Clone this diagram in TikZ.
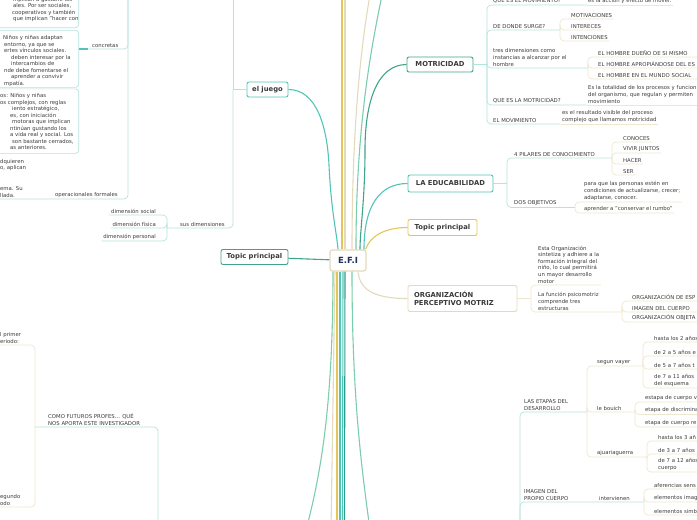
\documentclass[tikz,border=0pt]{standalone}
\usepackage{fontspec}
\setmainfont{DejaVu Sans}
\definecolor{tealc}{HTML}{52C4B7}
\definecolor{tealdk}{HTML}{2E9C8C}
\definecolor{greenc}{HTML}{3FA58A}
\definecolor{greenlt}{HTML}{7CCDAE}
\definecolor{yellowc}{HTML}{E2C65B}
\definecolor{beigec}{HTML}{E3D9BB}
\definecolor{tealpale}{HTML}{B3E3DD}
\definecolor{beigepale}{HTML}{EEE6CF}
\definecolor{inkc}{HTML}{3A3A3A}
\definecolor{navyc}{HTML}{1D2F63}

\begin{document}
\begin{tikzpicture}[x=1pt, y=-1pt, every node/.style={align=left}]
\tikzset{
  central/.style={draw=beigec, rounded corners=2.5pt, line width=1.2pt, fill=white, text=navyc, font=\fontsize{8.5}{10}\bfseries\selectfont, minimum width=36pt, minimum height=21pt},
  topic/.style={draw=#1, rounded corners=2pt, line width=0.9pt, fill=white, text=inkc, font=\fontsize{6.8}{8.6}\bfseries\selectfont, minimum height=15pt, inner xsep=3pt},
  leaf/.style={text=inkc, font=\fontsize{5.35}{6.6}\selectfont, inner xsep=1.5pt, inner ysep=1.6pt, anchor=south west},
  leafcut/.style={leaf, text width=120pt},
  tbox/.style={draw=tealpale, rounded corners=3pt, line width=0.7pt, inner sep=0pt},
  boxtxt/.style={text=inkc, font=\fontsize{5.35}{6.45}\selectfont, inner sep=0pt, anchor=north west},
  branch/.style={draw=#1, line width=1.1pt},
  twig/.style={draw=#1, line width=0.7pt, rounded corners=4pt}
}

% marco
\path[use as bounding box] (0,0) rectangle (697,520);
\clip (0,0) rectangle (697,520);

% temas
\node[central] (efi) at (348,260.5) {E.F.I};
\node[topic=greenc, minimum width=67pt] (topicIzq) at (254.5,257) {Topic principal};
\node[topic=tealc, minimum width=41pt] (juego) at (267.5,89.5) {el juego};
\node[topic=greenc, minimum width=66pt] (motricidad) at (440,64.5) {MOTRICIDAD};
\node[topic=tealc, minimum width=85pt, minimum height=17pt] (educabilidad) at (450.5,183.5) {LA EDUCABILIDAD};
\node[topic=yellowc, minimum width=69pt, minimum height=16pt] (topicDer) at (442.5,227.5) {Topic principal};
\node[topic=beigec, text width=97pt, inner xsep=6pt, minimum height=26pt] (organizacion) at (462.5,298.5) {ORGANIZACIÓN\\PERCEPTIVO MOTRIZ};

% puntos de union
\coordinate (motJ) at (487,64.5);
\coordinate (surgeJ) at (560,30);
\coordinate (tresJ) at (588,68);
\coordinate (eduJ) at (507,183.5);
\coordinate (pilJ) at (612,158);
\coordinate (dosJ) at (575,207.5);
\coordinate (orgJ) at (531,298.5);
\coordinate (funJ) at (622,312);
\coordinate (etBot) at (520,530);
\coordinate (etJ) at (587,412);
\coordinate (vayerJ) at (643,366);
\coordinate (bouichJ) at (635,412);
\coordinate (ajuJ) at (647,457);
\coordinate (intJ) at (644,502);
\coordinate (juegoJ) at (233,89.5);
\coordinate (juegoTop) at (233,-10);
\coordinate (susJ) at (167,228);
\coordinate (etapaTop) at (128,-10);
\coordinate (concJ) at (88,49);
\coordinate (profBot) at (158,530);
\coordinate (profJ) at (35,427);
\coordinate (up1) at (342,-5);
\coordinate (up2) at (345,-5);
\coordinate (up3) at (370,-5);
\coordinate (up4) at (382,-5);
\coordinate (dn1) at (306,530);
\coordinate (dn2) at (331,530);
\coordinate (dn3) at (337,530);
\coordinate (dn4) at (340,530);
\coordinate (dn5) at (342.5,530);
\coordinate (dn6) at (344.5,530);
\coordinate (dn7) at (370,530);

% motricidad
\node[leaf] (queMov) at (491.5,5) {QUE ES EL MOVIMIENTO?};
\node[leaf] (queMovResp) at (586.5,5) {es la acción y efecto de mover.};
\node[leaf] (dondeSurge) at (491.5,30) {DE DONDE SURGE?};
\node[leaf] (motivaciones) at (569.5,19) {MOTIVACIONES};
\node[leaf] (intereces) at (569.5,30) {INTERECES};
\node[leaf] (intenciones) at (569.5,41) {INTENCIONES};
\node[leaf] (tresDim) at (491.5,68) {tres dimensiones como\\instancias a alcanzar por el\\hombre};
\node[leafcut] (hombreUno) at (596.5,57) {EL HOMBRE DUEÑO DE SI MISMO};
\node[leafcut] (hombreDos) at (596.5,68) {EL HOMBRE APROPIÁNDOSE DEL ES};
\node[leafcut] (hombreTres) at (596.5,79) {EL HOMBRE EN EL MUNDO SOCIAL};
\node[leaf] (queMotri) at (491.5,105) {QUE ES LA MOTRICIDAD?};
\node[leafcut] (queMotriResp) at (586.5,105) {Es la totalidad de los procesos y funcion\\del organismo, que regulan y permiten\\movimiento};
\node[leaf] (elMov) at (491.5,124) {EL MOVIMIENTO};
\node[leaf] (elMovResp) at (560.5,124) {es el resultado visible del proceso\\complejo que llamamos motricidad};

% educabilidad
\node[leaf] (pilares) at (512.5,158) {4 PILARES DE CONOCIMIENTO};
\node[leaf] (conoces) at (621.5,142) {CONOCES};
\node[leaf] (vivir) at (621.5,153) {VIVIR JUNTOS};
\node[leaf] (hacer) at (621.5,164) {HACER};
\node[leaf] (ser) at (621.5,175) {SER};
\node[leaf] (dosObj) at (512.5,207.5) {DOS OBJETIVOS};
\node[leaf] (paraQue) at (582.5,202) {para que las personas estén en\\condiciones de actualizarse, crecer;\\adaptarse, conocer.};
\node[leaf] (aprender) at (582.5,213) {aprender a "conservar el rumbo"};

% organizacion perceptivo motriz
\node[leaf] (estaOrg) at (536.5,285) {Esta Organización\\sintetiza y adhiere a la\\formación integral del\\niño, lo cual permitirá\\un mayor desarrollo\\motor};
\node[leaf] (laFuncion) at (536.5,312) {La función psicomotriz\\comprende tres\\estructuras};
\node[leafcut] (orgEsp) at (630.5,301) {ORGANIZACIÓN DE ESP};
\node[leafcut] (imgCuerpo) at (630.5,312) {IMAGEN DEL CUERPO};
\node[leafcut] (orgObj) at (630.5,322) {ORGANIZACIÓN OBJETA};

% etapas e imagen
\node[leaf] (etapas) at (522.5,412) {LAS ETAPAS DEL\\DESARROLLO};
\node[leaf] (segunVayer) at (595.5,366) {segun vayer};
\node[leafcut] (vayerUno) at (652.5,342) {hasta los 2 años};
\node[leafcut] (vayerDos) at (652.5,356) {de 2 a 5 años e};
\node[leafcut] (vayerTres) at (652.5,369) {de 5 a 7 años t};
\node[leafcut] (vayerCuatro) at (652.5,388) {de 7 a 11 años\\del esquema};
\node[leaf] (leBouich) at (595.5,412) {le bouich};
\node[leafcut] (bouichUno) at (643.5,402) {estapa de cuerpo v};
\node[leafcut] (bouichDos) at (643.5,414.5) {etapa de discrimina};
\node[leafcut] (bouichTres) at (643.5,427) {etapa de cuerpo re};
\node[leaf] (ajuria) at (595.5,457) {ajuariaguerra};
\node[leafcut] (ajuUno) at (656.5,441) {hasta los 3 añ};
\node[leafcut] (ajuDos) at (656.5,454) {de 3 a 7 años};
\node[leafcut] (ajuTres) at (656.5,472) {de 7 a 12 años\\cuerpo};
\node[leaf] (imagen) at (522.5,502) {IMAGEN DEL\\PROPIO CUERPO};
\node[leaf] (intervienen) at (597.5,502) {intervienen};
\node[leafcut] (interUno) at (652.5,489) {aferencias sens};
\node[leafcut] (interDos) at (652.5,502) {elementos imag};
\node[leafcut] (interTres) at (652.5,515) {elementos simb};

% el juego
\node[leaf] (susDim) at (178.5,228) {sus dimensiones};
\node[leaf, anchor=south east] (dimSocial) at (157.5,215) {dimensión social};
\node[leaf, anchor=south east] (dimFisica) at (157.5,228) {dimensión física};
\node[leaf, anchor=south east] (dimPersonal) at (157.5,241) {dimensión personal};
\node[leaf] (concretas) at (90.5,49) {concretas};
\node[leaf] (formales) at (53.5,199) {operacionales formales};
\node[leaf] (formalesTxt) at (-1.5,199) {ema. Su\\llada.};
\node[boxtxt] (adquierenTxt) at (0,159) {dquieren\\o, aplican};
\node[tbox, minimum width=90pt, minimum height=40pt, anchor=south east] (caja1) at (79,28) {};
\node[tbox, minimum width=90pt, minimum height=57pt, anchor=north east] (caja2) at (79,30) {};
\node[tbox, minimum width=90pt, minimum height=64.5pt, anchor=north east] (caja3) at (79,88.5) {};
\node[boxtxt] (cajaTxt1) at (0,-3) {\hspace*{13pt}mplican a gustarle los\\\hspace*{13pt}ales. Por ser sociales,\\\hspace*{12pt}cooperativos y también\\\hspace*{13pt}que implican "hacer con};
\node[boxtxt] (cajaTxt2) at (0,35.5) {\hspace*{3pt}Niños y niñas adaptan\\\hspace*{4pt}entorno, ya que se\\\hspace*{4pt}ertes vínculos sociales.\\\hspace*{11pt}deben interesar por la\\\hspace*{11pt}intercambios de\\\hspace*{4pt}nde debe fomentarse el\\\hspace*{11pt}aprender a convivir\\\hspace*{4pt}mpatía.};
\node[boxtxt] (cajaTxt3) at (0,93.5) {os: Niños y niñas\\os complejos, con reglas\\\hspace*{12pt}iento estratégico,\\\hspace*{10pt}es, con iniciación\\\hspace*{12pt}motoras que implican\\\hspace*{10pt}ntinúan gustando los\\\hspace*{10pt}a vida real y social. Los\\\hspace*{12pt}son bastante cerrados,\\\hspace*{10pt}as anteriores.};

% futuros profes
\node[leaf] (futuros) at (46.5,427) {COMO FUTUROS PROFES... QUÉ\\NOS APORTA ESTE INVESTIGADOR};
\node[leaf] (primer) at (-1.5,345) {l primer\\eriodo:};
\node[leaf] (segundo) at (-1.5,507) {egundo\\odo};

% conectores principales
\draw[branch=greenc] (topicIzq) -- (efi);
\draw[branch=tealc] (juego.east) .. controls (316,89.5) and (327,125) .. (329,165) .. controls (331,210) and (337,235) .. ([xshift=-10pt]efi.north);
\draw[branch=greenc] (motricidad.west) .. controls (378,64.5) and (365,100) .. (365,150) .. controls (365,200) and (360,230) .. ([xshift=12pt]efi.north);
\draw[branch=tealc] (educabilidad.west) .. controls (380,183.5) and (364,205) .. ([xshift=16pt]efi.north);
\draw[branch=yellowc] (topicDer.west) .. controls (385,227.5) and (370,236) .. ([xshift=-1pt]efi.north east);
\draw[branch=beigec] (organizacion.west) .. controls (378,298.5) and (360,292) .. ([xshift=10pt]efi.south);

% ramas que salen del recorte
\draw[branch=yellowc] ([xshift=-6pt]efi.north) -- (up1);
\draw[branch=beigec] ([xshift=-3pt]efi.north) -- (up2);
\draw[branch=beigec] ([xshift=4pt]efi.north) .. controls (352,120) and (362,40) .. (up3);
\draw[branch=greenlt] ([xshift=8pt]efi.north) .. controls (356,120) and (373,40) .. (up4);
\draw[branch=greenlt] ([xshift=-15pt]efi.south) .. controls (333,400) and (322,470) .. (dn1);
\draw[branch=beigec] ([xshift=-13pt]efi.south) -- (dn2);
\draw[branch=yellowc] ([xshift=-11pt]efi.south) -- (dn3);
\draw[branch=tealc] ([xshift=-8pt]efi.south) -- (dn4);
\draw[branch=tealc] ([xshift=-5pt]efi.south) -- (dn5);
\draw[branch=tealdk] ([xshift=-3pt]efi.south) -- (dn6);
\draw[branch=greenlt] ([xshift=4pt]efi.south) .. controls (352,400) and (362,470) .. (dn7);

% subramas motricidad
\draw[twig=tealpale] (motricidad.east) -- (motJ);
\draw[twig=tealpale] (motJ) |- (queMovResp.south west);
\draw[twig=beigepale] (queMovResp.south west) -- (queMovResp.south east);
\draw[twig=tealpale] (motJ) |- (surgeJ);
\foreach \n in {motivaciones, intereces, intenciones} \draw[twig=beigepale] (surgeJ) |- (\n.south east);
\draw[twig=tealpale] (motJ) |- (tresJ);
\foreach \n in {hombreUno, hombreDos, hombreTres} \draw[twig=beigepale] (tresJ) |- (\n.south east);
\draw[twig=tealpale] (motJ) |- (queMotriResp.south west);
\draw[twig=beigepale] (queMotriResp.south west) -- (queMotriResp.south east);
\draw[twig=tealpale] (motJ) |- (elMovResp.south west);
\draw[twig=beigepale] (elMovResp.south west) -- (elMovResp.south east);

% subramas educabilidad
\draw[twig=tealpale] (educabilidad.east) -- (eduJ);
\draw[twig=tealpale] (eduJ) |- (pilJ);
\foreach \n in {conoces, vivir, hacer, ser} \draw[twig=beigepale] (pilJ) |- (\n.south east);
\draw[twig=tealpale] (eduJ) |- (dosJ);
\foreach \n in {paraQue, aprender} \draw[twig=beigepale] (dosJ) |- (\n.south east);

% subramas organizacion
\draw[twig=beigepale] (organizacion.east) -- (orgJ);
\draw[twig=beigepale] (orgJ) |- (estaOrg.south east);
\draw[twig=beigepale] (orgJ) |- (funJ);
\foreach \n in {orgEsp, imgCuerpo, orgObj} \draw[twig=beigepale] (funJ) |- (\n.south east);

% etapas e imagen
\draw[twig=tealpale] (etBot) |- (etJ);
\draw[twig=tealpale] (etBot) |- (intJ);
\draw[twig=beigepale] (etJ) |- (vayerJ);
\draw[twig=beigepale] (etJ) |- (bouichJ);
\draw[twig=beigepale] (etJ) |- (ajuJ);
\foreach \n in {vayerUno, vayerDos, vayerTres, vayerCuatro} \draw[twig=beigepale] (vayerJ) |- (\n.south east);
\foreach \n in {bouichUno, bouichDos, bouichTres} \draw[twig=beigepale] (bouichJ) |- (\n.south east);
\foreach \n in {ajuUno, ajuDos, ajuTres} \draw[twig=beigepale] (ajuJ) |- (\n.south east);
\foreach \n in {interUno, interDos, interTres} \draw[twig=beigepale] (intJ) |- (\n.south east);

% el juego
\draw[twig=tealpale] (juego.west) -- (juegoJ);
\draw[twig=tealpale] (juegoJ) -- (juegoTop);
\draw[twig=tealpale] (juegoJ) |- (susJ);
\foreach \n in {dimSocial, dimFisica, dimPersonal} \draw[twig=tealpale] (susJ) |- (\n.south west);
\draw[twig=tealpale] (etapaTop) |- (formalesTxt.south west);
\draw[twig=tealpale] (etapaTop) |- (caja2.east |- concJ);
\draw[twig=tealc, line width=1.4pt] (caja2.east |- concJ) -- (concJ);

% futuros profes
\draw[twig=tealpale] (profBot) |- (profJ);
\draw[twig=beigepale] (profJ) |- (primer.south west);
\draw[twig=beigepale] (profJ) |- (segundo.south west);
\end{tikzpicture}
\end{document}
